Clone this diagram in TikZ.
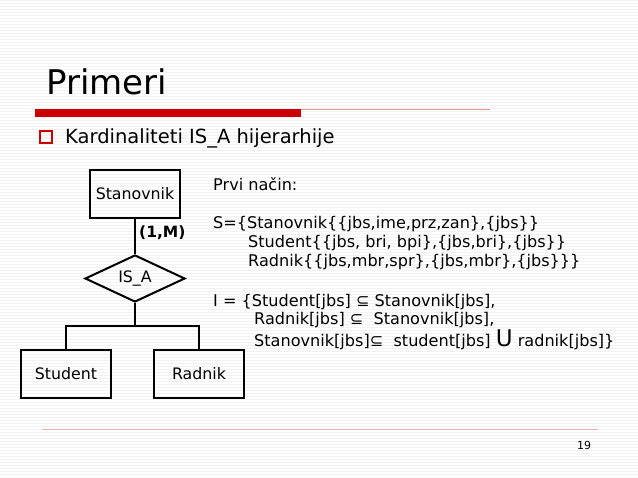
\documentclass[tikz,border=0pt]{standalone}
\usepackage{fontspec}
\setmainfont{DejaVu Sans}
\usetikzlibrary{shapes.geometric}
\definecolor{slred}{HTML}{CC0000}
\begin{document}
\begin{tikzpicture}[x=1pt,y=-1pt,
  ent/.style={draw,line width=2pt,minimum width=90pt,minimum height=48pt,inner sep=0pt,font=\fontsize{15.8}{18}\selectfont},
  rel/.style={draw,diamond,aspect=2.1,line width=2pt,minimum width=100pt,minimum height=47pt,inner sep=0pt,font=\fontsize{15.8}{18}\selectfont},
  conn/.style={line width=2pt},
  txt/.style={anchor=base west,inner sep=0pt,font=\fontsize{16.1}{19}\selectfont}]
\useasboundingbox (0,0) rectangle (638,478);
\fill[white] (0,0) rectangle (638,478);
\foreach \yy in {1,4,...,477} \draw[black!5,line width=1pt] (0,\yy) -- (638,\yy);
% title
\node[anchor=base west,inner sep=0pt,font=\fontsize{34}{40}\selectfont] (title) at (46,95) {Primeri};
\fill[slred] (35,109) rectangle (301,117);
\draw[slred!40,line width=1.2pt] (301,109.5) -- (490,109.5);
\node[draw=slred,line width=1.3pt,minimum size=12pt,inner sep=0pt] (bul) at (46,137) {};
\node[anchor=base west,inner sep=0pt,font=\fontsize{19.5}{23}\selectfont] (sub) at (65,144) {Kardinaliteti IS\_A hijerarhije};
% diagram
\node[ent] (stan) at (135,194) {Stanovnik};
\node[rel] (isa) at (135,278.5) {IS\_A};
\node[ent] (stud) at (66,374) {Student};
\node[ent] (rad) at (199,374) {Radnik};
\coordinate (j) at (135,326);
\draw[conn] (stan.south) -- (isa.north);
\draw[conn] (isa.south) -- (j);
\draw[conn] (stud.north) |- (j) -| (rad.north);
\node[anchor=base west,inner sep=0pt,font=\bfseries\fontsize{15.5}{18}\selectfont] (card) at (139,238) {(1,M)};
% text
\node[txt] (t1) at (213,191) {Prvi način:};
\node[txt] (t2) at (213,229) {S=\{Stanovnik\{\{jbs,ime,prz,zan\},\{jbs\}\}};
\node[txt] (t3) at (248,248) {Student\{\{jbs, bri, bpi\},\{jbs,bri\},\{jbs\}\}};
\node[txt] (t4) at (248,267) {Radnik\{\{jbs,mbr,spr\},\{jbs,mbr\},\{jbs\}\}\}};
\node[txt] (t5) at (213,307) {I = \{Student[jbs] ⊆ Stanovnik[jbs],};
\node[txt] (t6) at (254,325) {Radnik[jbs] ⊆\ \ Stanovnik[jbs],};
\node[txt] (t7) at (254,347) {Stanovnik[jbs]⊆\ \ student[jbs] {\fontsize{23}{24}\selectfont U} radnik[jbs]\}};
% footer
\draw[slred!30,line width=1pt] (42,430) -- (598,430);
\node[anchor=base,inner sep=0pt,font=\fontsize{11}{13}\selectfont] (pg) at (584,450) {19};
\end{tikzpicture}
\end{document}
